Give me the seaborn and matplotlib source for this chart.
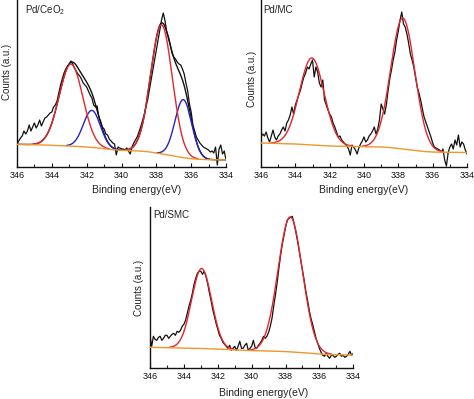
import numpy as np
import pandas as pd
import matplotlib
matplotlib.use("Agg")
import matplotlib.pyplot as plt
import seaborn as sns
from matplotlib.ticker import MultipleLocator

# ---------------- data ----------------
panel_names = ["Pd/CeO$_2$", "Pd/MC", "Pd/SMC"]
x_label = "Binding energy(eV)"
y_label = "Counts (a.u.)"
x_ticks = [346, 344, 342, 340, 338, 336, 334]

# measured spectra, 346.0 -> 334.0 eV in 0.1 eV steps (arbitrary counts)
ceo2_counts = [
    23, 26, 29, 31, 36, 33, 36, 42, 36, 40,
    44, 39, 42, 47, 41, 45, 49, 50, 52, 54,
    55, 60, 62, 66, 74, 82, 88, 94, 98, 101,
    103, 106, 103, 99, 96, 93, 91, 88, 84, 82,
    80, 76, 72, 69, 62, 60, 61, 50, 46, 40,
    38, 33, 32, 28, 26, 24, 23, 12, 20, 19,
    18, 18, 17, 19, 16, 13, 20, 24, 27, 30,
    35, 40, 46, 52, 60, 67, 77, 87, 97, 107,
    117, 127, 137, 147, 154, 146, 135, 130, 122, 114,
    110, 108, 105, 103, 102, 98, 93, 84, 76, 63,
    55, 42, 36, 30, 27, 24, 22, 20, 19, 18,
    17, 15, 16, 14, 20, 2, 18, 22, 13, 16,
    7]
mc_counts = [
    30, 33, 31, 35, 29, 25, 31, 37, 30, 27,
    31, 33, 37, 40, 36, 44, 47, 52, 60, 53,
    62, 67, 72, 77, 84, 90, 94, 100, 98, 103,
    107, 90, 100, 95, 84, 80, 87, 67, 62, 57,
    53, 50, 44, 40, 35, 30, 31, 27, 25, 23,
    21, 18, 12, 22, 20, 17, 13, 19, 23, 26,
    30, 25, 27, 31, 33, 36, 40, 33, 38, 47,
    63, 58, 53, 62, 76, 88, 97, 107, 115, 127,
    136, 147, 155, 143, 140, 133, 124, 113, 107, 100,
    90, 80, 74, 67, 58, 50, 45, 40, 35, 30,
    24, 20, 19, 18, 17, 15, 18, 7, 1, 14,
    20, 23, 18, 27, 22, 32, 20, 25, 23, 17,
    13]
smc_counts = [
    32, 22, 32, 29, 28, 31, 32, 28, 30, 33,
    33, 30, 32, 34, 35, 33, 37, 36, 38, 42,
    44, 48, 55, 62, 68, 75, 84, 90, 95, 97,
    97, 94, 97, 92, 85, 76, 68, 59, 52, 45,
    39, 33, 30, 26, 24, 22, 20, 23, 18, 20,
    22, 18, 22, 27, 20, 20, 23, 25, 18, 20,
    22, 28, 21, 20, 23, 25, 28, 32, 30, 32,
    36, 42, 50, 62, 73, 85, 99, 112, 123, 132,
    141, 148, 150, 151, 152, 145, 137, 128, 118, 108,
    98, 88, 77, 68, 58, 50, 44, 37, 30, 25,
    20, 16, 13, 12, 15, 12, 10, 13, 13, 11,
    12, 14, 15, 12, 13, 11, 12, 14, 17, 13,
    15]

# Shirley-type backgrounds, 346 -> 334 eV in 0.5 eV steps
bg_energy = [346.0, 345.5, 345.0, 344.5, 344.0, 343.5, 343.0, 342.5, 342.0,
             341.5, 341.0, 340.5, 340.0, 339.5, 339.0, 338.5, 338.0, 337.5,
             337.0, 336.5, 336.0, 335.5, 335.0, 334.5, 334.0]
ceo2_bg = [22.7, 22.5, 22.2, 22.0, 21.7, 21.3, 21.0, 20.5, 20.0, 19.3, 18.3,
           17.3, 16.7, 16.3, 16.0, 15.3, 14.0, 12.5, 11.0, 9.5, 8.3, 7.7,
           7.3, 7.2, 7.2]
mc_bg = [24.0, 23.8, 23.5, 23.2, 23.0, 22.5, 22.0, 21.5, 21.0, 20.8, 20.7,
         20.5, 20.3, 20.1, 20.0, 19.5, 18.5, 17.5, 16.5, 15.5, 15.0, 14.8,
         14.7, 14.6, 14.5]
smc_bg = [21.0, 20.8, 20.6, 20.4, 20.2, 20.0, 19.8, 19.5, 19.2, 18.8, 18.4,
          18.0, 17.7, 17.5, 17.3, 17.0, 16.7, 16.2, 15.6, 15.0, 14.3, 13.8,
          13.5, 13.4, 13.3]

# fitted components (peak centre eV, height above background, sigma eV)
ceo2_red_center = [342.9, 337.7]
ceo2_red_height = [82, 129]
ceo2_red_sigma = [0.68, 0.62]
ceo2_blue_center = [341.7, 336.45]
ceo2_blue_height = [37, 58]
ceo2_blue_sigma = [0.49, 0.48]
mc_red_center = [343.04, 337.74]
mc_red_height = [87, 131]
mc_red_sigma = [0.72, 0.70]
smc_red_center = [342.95, 337.72]
smc_red_height = [80, 135]
smc_red_sigma = [0.59, 0.72]

# ---------------- style ----------------
sns.set_style("ticks")
plt.rcParams["font.family"] = ["Liberation Sans", "DejaVu Sans"]
plt.rcParams["mathtext.fontset"] = "custom"
plt.rcParams["mathtext.rm"] = "Liberation Sans"
plt.rcParams["mathtext.it"] = "Liberation Sans:italic"

BLACK = "#111111"
RED = "#e3262b"
BLUE = "#2424c8"
ORANGE = "#f0962a"
TEXT = "#222222"

energy = np.round(np.linspace(346.0, 334.0, 121), 2)
fine = np.linspace(346.0, 334.0, 601)


def gauss(x, c, h, s):
    return h * np.exp(-((x - c) ** 2) / (2 * s * s))


fig = plt.figure(figsize=(4.74, 3.99), dpi=100)

W, H = 474.0, 399.0
boxes = [  # left, top, right, bottom in pixels
    (17, 0, 226, 167),
    (261, 0, 467, 167),
    (150, 206.7, 353.3, 368.3),
]
label_pos = [  # ylabel x, ylabel y, xlabel x, xlabel y, title x, title y
    (-0.022, 0.57, 0.57, -0.105, 0.04, 0.94),
    (-0.018, 0.53, 0.50, -0.105, 0.01, 0.94),
    (-0.028, 0.50, 0.56, -0.12, 0.015, 0.95),
]

spectra = [
    dict(counts=ceo2_counts, bg=ceo2_bg,
         red=(ceo2_red_center, ceo2_red_height, ceo2_red_sigma),
         blue=(ceo2_blue_center, ceo2_blue_height, ceo2_blue_sigma),
         envelope=True),
    dict(counts=mc_counts, bg=mc_bg,
         red=(mc_red_center, mc_red_height, mc_red_sigma),
         blue=None, envelope=False),
    dict(counts=smc_counts, bg=smc_bg,
         red=(smc_red_center, smc_red_height, smc_red_sigma),
         blue=None, envelope=False),
]

for i, (box, sp) in enumerate(zip(boxes, spectra)):
    l, t, r, b = box
    ax = fig.add_axes([l / W, (H - b) / H, (r - l) / W, (b - t) / H])
    ax.set_facecolor("none")

    df = pd.DataFrame({"energy": energy, "counts": sp["counts"]})
    sns.lineplot(data=df, x="energy", y="counts", ax=ax, color=BLACK,
                 lw=0.9, estimator=None, zorder=2)

    bg_fine = np.interp(fine[::-1], bg_energy[::-1], sp["bg"][::-1])[::-1]
    total = bg_fine.copy()
    comps = []
    groups = [(sp["red"], RED)]
    if sp["blue"] is not None:
        groups.append((sp["blue"], BLUE))
    for params, col in groups:
        for c, h, s in zip(*params):
            g = gauss(fine, c, h, s)
            total = total + g
            keep = g > 0.4
            comps.append((fine[keep], bg_fine[keep] + g[keep], col))

    if sp["envelope"]:
        sns.lineplot(x=fine, y=total, ax=ax, color=BLACK, lw=1.0,
                     estimator=None, zorder=3)
    sns.lineplot(x=bg_energy, y=sp["bg"], ax=ax, color=ORANGE, lw=1.0,
                 estimator=None, zorder=6)
    for xv, yv, col in comps:
        sns.lineplot(x=xv, y=yv, ax=ax, color=col, lw=1.0,
                     estimator=None, zorder=5 if col == RED else 4.5)

    ax.set_xlim(346, 334)
    ax.set_ylim(0, b - t)
    ax.set_xticks(x_ticks)
    ax.set_xticklabels([str(v) for v in x_ticks])
    ax.xaxis.set_minor_locator(MultipleLocator(1))
    ax.set_yticks([])
    ax.tick_params(axis="x", which="major", direction="in", length=2.6,
                   width=0.8, labelsize=6.5, pad=3, colors=BLACK)
    ax.tick_params(axis="x", which="minor", direction="in", length=2.0,
                   width=0.8)
    for side in ["top", "right"]:
        ax.spines[side].set_visible(False)
    for side in ["left", "bottom"]:
        ax.spines[side].set_linewidth(1.0)
        ax.spines[side].set_color(BLACK)

    ylx, yly, xlx, xly, tx, ty = label_pos[i]
    ax.set_xlabel(x_label, fontsize=7.5, color=TEXT)
    ax.set_ylabel(y_label, fontsize=7, color=TEXT)
    ax.xaxis.set_label_coords(xlx, xly)
    ax.yaxis.set_label_coords(ylx, yly)
    ax.text(tx, ty, panel_names[i], transform=ax.transAxes, fontsize=7,
            ha="left", va="center", color=TEXT)

fig.savefig("out.png", dpi=100)
